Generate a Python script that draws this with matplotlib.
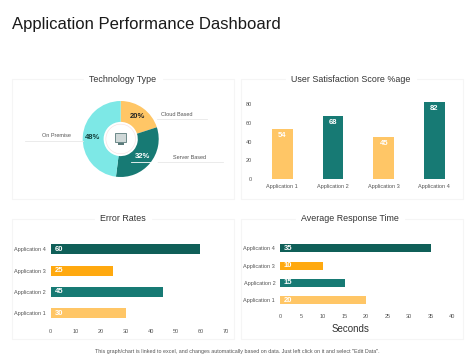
from matplotlib import pyplot as plt
from matplotlib.patches import Rectangle, Circle

W = 474
H = 355

tech_labels = ['Cloud Based', 'Server Based', 'On Premise']
tech_values = [20, 32, 48]
tech_pct = ['20%', '32%', '48%']

apps = ['Application 1', 'Application 2', 'Application 3', 'Application 4']
satisfaction = [54, 68, 45, 82]
error_rates = [30, 45, 25, 60]
response_time = [20, 15, 10, 35]

sat_ticks = [0, 20, 40, 60, 80]
err_ticks = [0, 10, 20, 30, 40, 50, 60, 70]
resp_ticks = [0, 5, 10, 15, 20, 25, 30, 35, 40]

YELLOW = '#FFC666'
TEAL = '#177A74'
DARK = '#0F5F58'
ORANGE = '#FFA90F'
CYAN = '#7DE8E6'
GREY = '#555555'

plt.rcParams['font.family'] = ['Liberation Sans', 'DejaVu Sans']


def px_axes(fig, left, top, right, bottom):
    # axes from pixel box, y counted from the top of the image
    ax = fig.add_axes([left/W, 1 - bottom/H, (right-left)/W, (bottom-top)/H])
    return ax


def px_text(fig, x, y, s, **kw):
    kw.setdefault('ha', 'center')
    kw.setdefault('va', 'center')
    fig.text(x/W, 1 - y/H, s, **kw)


def px_line(fig, x0, x1, y, color='#e8e8e8'):
    fig.add_artist(plt.Line2D([x0/W, x1/W], [1 - y/H, 1 - y/H], color=color, lw=0.6))


def clean(ax):
    for s in ax.spines.values():
        s.set_visible(False)
    ax.tick_params(length=0, labelsize=4, labelcolor=GREY, pad=3.5)
    ax.patch.set_alpha(0)


def hbars(ax, values, ticks, xmax):
    colors = [YELLOW, TEAL, ORANGE, DARK]
    ax.barh(range(4), values, height=0.47, color=colors)
    for i, v in enumerate(values):
        ax.annotate(str(v), (0, i), xytext=(2.9, 0), textcoords='offset points', color='white',
                    fontsize=5.5, fontweight='bold', va='center', ha='left')
    ax.set_yticks(range(4), apps)
    ax.set_xticks(ticks)
    ax.set_xlim(0, xmax)
    ax.set_ylim(-0.5, 3.5)
    clean(ax)


fig = plt.figure(figsize=(W/100, H/100), dpi=100)

px_text(fig, 12, 24, 'Application Performance Dashboard', ha='left', fontsize=12,
        color='#1a1a1a')

# panel frames
for x0, y0, x1, y1 in [(12, 79, 234, 199), (241, 79, 463, 199), (12, 219, 234, 339), (241, 219, 463, 339)]:
    fig.add_artist(Rectangle((x0/W, 1 - y1/H), (x1-x0)/W, (y1-y0)/H, fill=False,
                             edgecolor='#f5f5f5', lw=0.8, transform=fig.transFigure))

titles = [(123, 79, 'Technology Type'), (351, 79, 'User Satisfaction Score %age'),
          (123, 219, 'Error Rates'), (350, 219, 'Average Response Time')]
for x, y, s in titles:
    px_text(fig, x, y, s, fontsize=6.4, color='#333333', backgroundcolor='white')

# donut
ax = px_axes(fig, 82.7, 101, 158.7, 177)
ax.pie(tech_values, colors=[YELLOW, TEAL, CYAN], startangle=90, counterclock=False,
       radius=1, wedgeprops={'width': 0.55})
ax.set_xlim(-1, 1)
ax.set_ylim(-1, 1)
ax.add_patch(Circle((0, 0), 0.39, fill=False, edgecolor='#f6dede', lw=0.4))
ax.add_patch(Rectangle((-0.15, -0.07), 0.3, 0.24, facecolor='#cfd8d8', edgecolor='#5a7a7a', lw=0.6))
ax.add_patch(Rectangle((-0.08, -0.15), 0.16, 0.04, facecolor='#5a7a7a', edgecolor='none'))
ax.text(0.44, 0.59, tech_pct[0], fontsize=5.5, fontweight='bold', color='#222222', ha='center', va='center')
ax.text(0.57, -0.47, tech_pct[1], fontsize=5.5, fontweight='bold', color='white', ha='center', va='center')
ax.text(-0.73, 0.05, tech_pct[2], fontsize=5.5, fontweight='bold', color='#12403d', ha='center', va='center')

px_text(fig, 177, 114, tech_labels[0], fontsize=4, color=GREY)
px_text(fig, 190, 157, tech_labels[1], fontsize=4, color=GREY)
px_text(fig, 56, 136, tech_labels[2], fontsize=4, color=GREY)
px_line(fig, 157, 207, 119)
px_line(fig, 157, 223, 162)
px_line(fig, 25, 83, 141)
px_line(fig, 131, 157, 162, color='white')

# user satisfaction
ax = px_axes(fig, 257, 95, 459.7, 179)
ax.bar(range(4), satisfaction, width=0.41, color=[YELLOW, TEAL, YELLOW, TEAL])
for i, v in enumerate(satisfaction):
    ax.text(i, v - 7, str(v), color='white', fontsize=5.5, fontweight='bold', ha='center', va='center')
ax.set_xticks(range(4), apps)
ax.set_yticks(sat_ticks)
ax.set_xlim(-0.5, 3.5)
ax.set_ylim(0, 90)
clean(ax)

# error rates
ax = px_axes(fig, 50.7, 238.7, 225.4, 323.8)
hbars(ax, error_rates, err_ticks, 70)

# response time
ax = px_axes(fig, 280, 239.6, 452.3, 309)
hbars(ax, response_time, resp_ticks, 40)
px_text(fig, 350, 329, 'Seconds', fontsize=7, color='#333333')

px_text(fig, 237, 351, 'This graph/chart is linked to excel, and changes automatically based on data. Just left click on it and select "Edit Data".',
        fontsize=3.85, color=GREY)

fig.savefig('out.png', dpi=100)
